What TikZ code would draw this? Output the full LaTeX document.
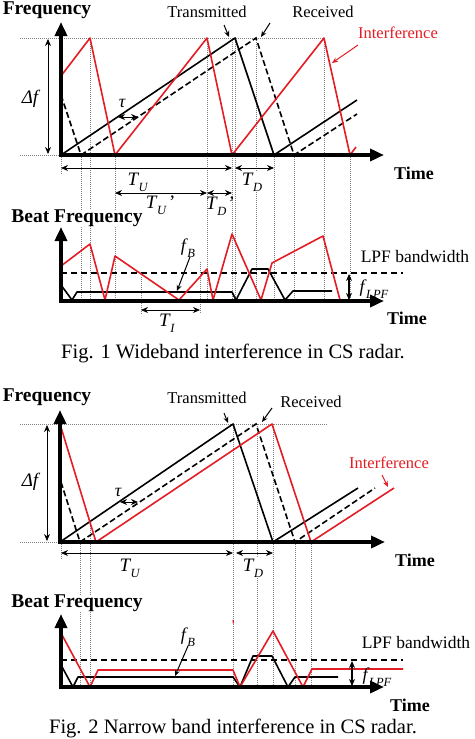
\documentclass[tikz,border=0pt]{standalone}
\usepackage{fontspec}
\setmainfont{Liberation Serif}
\usetikzlibrary{arrows.meta}
\definecolor{intred}{RGB}{228,28,36}
\newcommand\fsz[1]{\fontsize{#1}{#1}\selectfont}
\newcommand\symb[2]{\textit{#1}\kern-0.5pt\raisebox{-0.3em}{\fsz{12.5}\textit{#2}}}
\tikzset{
 axisline/.style={line width=4.5pt, -{Triangle[length=14pt,width=12pt]}},
 txline/.style={line width=1.6pt, black, line join=round},
 rxline/.style={line width=1.6pt, black, dash pattern=on 6pt off 3pt},
 intline/.style={line width=1.6pt, intred, line join=round},
 guide/.style={gray, line width=0.5pt, dash pattern=on 1pt off 1pt},
 dimarrow/.style={line width=0.8pt, {Stealth[length=7pt,width=6pt]}-{Stealth[length=7pt,width=6pt]}},
 lpfline/.style={line width=1.6pt, dash pattern=on 6pt off 4pt},
 callout/.style={line width=1pt, -{Stealth[length=6pt,width=5pt]}},
 lbl/.style={font=\fsz{16.5}, inner sep=1pt},
 boldlbl/.style={font=\fsz{19.5}\bfseries, inner sep=0pt, fill=white},
 timelbl/.style={font=\fsz{18}\bfseries, inner sep=0pt},
 mathlbl/.style={font=\fsz{19}, inner sep=1pt, fill=white},
 caption/.style={font=\fsz{20.5}, inner sep=0pt, anchor=base}
}
\begin{document}
\begin{tikzpicture}[x=1pt,y=-1pt]
\useasboundingbox (0,0) rectangle (474,739);

%================ FIG 1 =================
% guides
\draw[guide] (20,38) -- (325,38);
\draw[guide] (20,155) -- (61,155);
\draw[guide] (61,155) -- (61,175);
\foreach \gx in {90,207,232,235,256,324} \draw[guide] (\gx,38) -- (\gx,300);
\foreach \gx in {81,115,274,294,350} \draw[guide] (\gx,155) -- (\gx,300);
\draw[guide] (141,277) -- (141,314);
\draw[guide] (200,262) -- (200,314);

% transmitted / received / interference
\draw[txline] (61,155) -- (235,38) -- (274,155) -- (357,100);
\draw[rxline] (61,95) -- (81,155) -- (256,38) -- (294,155) -- (357,114);
\draw[intline] (61,76) -- (90,38) -- (115,155) -- (207,38) -- (232,155) -- (324,38) -- (350,155) -- (356,147);

% axes
\draw[axisline] (61,157.2) -- (61,22);
\draw[axisline] (59,155) -- (384,155);

% dimension arrows
\draw[dimarrow] (48,39) -- (48,154);
\draw[dimarrow] (118,117) -- (138,117);
\draw[dimarrow] (61,168) -- (232,168);
\draw[dimarrow] (235,168) -- (274,168);
\draw[dimarrow] (115,193) -- (207,193);
\draw[dimarrow] (207,193) -- (232,193);

% callouts
\draw[callout] (224,25) -- (229,37);
\draw[callout] (270,23) -- (261,37);
\draw[callout, intred] (358,45) -- (332,63);

% labels
\node[boldlbl] (freq1) at (47,10) {Frequency};
\node[lbl, font=\fsz{19}\itshape] (df1) at (30,99) {Δf};
\node[lbl, font=\fsz{18}\itshape] (tau1) at (122,103) {τ};
\node[lbl] (tx1) at (207,12) {Transmitted};
\node[lbl] (rx1) at (323,12) {Received};
\node[lbl, text=intred] (int1) at (398,33) {Interference};
\node[timelbl] (time1) at (414,173) {Time};
\node[mathlbl] (tu1) at (138,182) {\symb{T}{U}};
\node[mathlbl] (td1) at (252,182) {\symb{T}{D}};
\node[mathlbl, fill=none] (tup1) at (160,205) {\symb{T}{U}\kern1pt\textit{'}};
\node[mathlbl, fill=none] (tdp1) at (220,206) {\symb{T}{D}\kern1pt\textit{'}};

%---- beat frequency 1
\draw[lpfline] (61,273) -- (403,273);
\draw[txline] (61,285) -- (72,300) -- (77,292) -- (232,292) -- (236,300) -- (252,269) -- (268,269) -- (285,300) -- (293,291) -- (332,291);
\draw[intline] (61,266) -- (90,244) -- (105,300) -- (115,256) -- (179,300) -- (207,269) -- (213,300) -- (232,234) -- (261,300) -- (272,263) -- (323,236) -- (340,300);
\draw[axisline] (61,303.2) -- (61,227);
\draw[axisline] (59,301) -- (384,301);
\draw[dimarrow] (141,310) -- (200,310);
\draw[dimarrow, line width=1.1pt] (349,274) -- (349,300);
\draw[callout] (190,257) -- (177,291);

\node[boldlbl] (beat1) at (77,218) {Beat Frequency};
\node[lbl, font=\fsz{18}] (fb1) at (188,248) {\symb{f}{B}};
\node[lbl, font=\fsz{17.5}] (lpf1) at (415,257) {LPF bandwidth};
\node[lbl, font=\fsz{18}] (flpf1) at (374,289) {\symb{f}{LPF}};
\node[timelbl] (time1b) at (407,318) {Time};
\node[mathlbl] (ti1) at (167,323) {\symb{T}{I}};
\node[caption] (cap1) at (233,358) {Fig. 1 Wideband interference in CS radar.};

%================ FIG 2 =================
\draw[guide] (20,424) -- (327,424);
\draw[guide] (20,542) -- (60,542);
\draw[guide] (61,542) -- (61,560);
\foreach \gx in {233,257,273} \draw[guide] (\gx,424) -- (\gx,687);
\foreach \gx in {80,295,311} \draw[guide] (\gx,542) -- (\gx,687);
\draw[guide] (90,522) -- (90,687);

\draw[txline] (60,542) -- (233,424) -- (273,542) -- (358,488);
\draw[rxline] (61,482) -- (80,542) -- (256,424) -- (295,542) -- (375,488);
\draw[intline] (60,424) -- (96,542) -- (272,424) -- (311,542) -- (394,488);

\draw[axisline] (60,544.2) -- (60,410);
\draw[axisline] (58,542) -- (385,542);

\draw[dimarrow] (47,425) -- (47,541);
\draw[dimarrow] (120,502) -- (138,502);
\draw[dimarrow] (61,553) -- (233,553);
\draw[dimarrow] (236,553) -- (273,553);

\draw[callout] (224,413) -- (228,423);
\draw[callout] (272,408) -- (262,422);
\draw[callout, intred] (382,475) -- (388,487);

\node[boldlbl] (freq2) at (47,397) {Frequency};
\node[lbl, font=\fsz{19}\itshape] (df2) at (30,482) {Δf};
\node[lbl, font=\fsz{18}\itshape] (tau2) at (118,492) {τ};
\node[lbl] (tx2) at (207,398) {Transmitted};
\node[lbl] (rx2) at (311,402) {Received};
\node[lbl, text=intred] (int2) at (389,463) {Interference};
\node[timelbl] (time2) at (415,560) {Time};
\node[mathlbl] (tu2) at (130,568) {\symb{T}{U}};
\node[mathlbl] (td2) at (253,568) {\symb{T}{D}};

%---- beat frequency 2
\draw[lpfline] (61,660) -- (403,660);
\draw[txline] (61,665) -- (73,687) -- (78,677) -- (233,677) -- (240,687) -- (253,656) -- (272,656) -- (288,687) -- (295,677) -- (338,677);
\draw[intline] (61,633) -- (90,687) -- (98,670) -- (233,670) -- (240,687) -- (273,631) -- (303,687) -- (312,669) -- (403,669);
\draw[intline, line width=1.2pt] (233,620) -- (233.5,623.5);
\draw[axisline] (61,689.2) -- (61,614);
\draw[axisline] (59,687) -- (384,687);
\draw[dimarrow, line width=1.1pt] (352,661) -- (352,686);
\draw[callout] (188,646) -- (175,676);

\node[boldlbl] (beat2) at (77,603) {Beat Frequency};
\node[lbl, font=\fsz{18}] (fb2) at (188,637) {\symb{f}{B}};
\node[lbl, font=\fsz{17.5}] (lpf2) at (416,643) {LPF bandwidth};
\node[lbl, font=\fsz{18}] (flpf2) at (377,677) {\symb{f}{LPF}};
\node[timelbl] (time2b) at (410,705) {Time};
\node[caption] (cap2) at (233,733.5) {Fig. 2 Narrow band interference in CS radar.};
\end{tikzpicture}
\end{document}
